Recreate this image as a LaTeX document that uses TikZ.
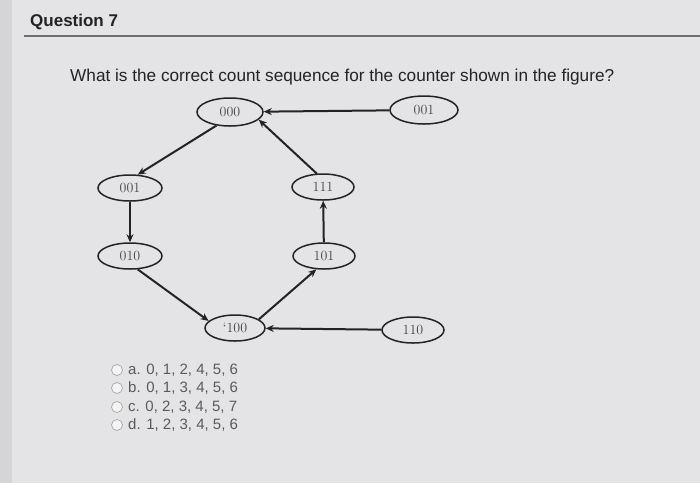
\documentclass[tikz,border=0pt]{standalone}
\usepackage{fontspec}
\setsansfont{Liberation Sans}
\usetikzlibrary{shapes.geometric,arrows.meta}
\definecolor{bgc}{RGB}{228,228,230}
\definecolor{ink}{RGB}{35,35,35}
\definecolor{rule}{RGB}{110,110,110}
\begin{document}
\begin{tikzpicture}[x=1pt,y=-1pt,
  st/.style={draw=ink,ellipse,line width=1.5pt,minimum width=64pt,minimum height=26pt,inner sep=0pt,font=\fontsize{14}{14}\selectfont,text=ink!85},
  ar/.style={draw=ink,line width=2pt,-{Stealth[length=8pt,width=7pt]}},
  opt/.style={anchor=west,font=\sffamily\fontsize{15}{15}\selectfont,text=ink!75,inner sep=0pt},
  radio/.style={draw=gray!70,circle,minimum size=11pt,inner sep=0pt,line width=0.7pt,fill=white!60!bgc}]
\fill[bgc] (0,0) rectangle (700,483);
\useasboundingbox (0,0) rectangle (700,483);
\fill[gray!15!bgc] (0,0) rectangle (12,483);
\node[anchor=west,font=\sffamily\bfseries\fontsize{17}{17}\selectfont,text=ink,inner sep=0pt] (title) at (30,22) {Question 7};
\draw[rule,line width=1.2pt] (24,36) -- (700,36);
\node[anchor=west,font=\sffamily\fontsize{17.2}{17.2}\selectfont,text=ink,inner sep=0pt] (q) at (70,77) {What is the correct count sequence for the counter shown in the figure?};
% states
\node[st,minimum width=66pt,minimum height=28pt] (s000) at (230,112) {000};
\node[st,minimum width=68pt,minimum height=28pt] (s001r) at (424,110) {001};
\node[st] (s001) at (130,188) {001};
\node[st,minimum width=62pt] (s111) at (323,187) {111};
\node[st] (s010) at (130,256) {010};
\node[st,minimum width=62pt] (s101) at (324,256) {101};
\node[st,minimum width=60pt] (s100) at (235,328) {`100};
\node[st,minimum width=62pt] (s110) at (413,330) {110};
% transitions
\draw[ar] (s001r) -- (s000);
\draw[ar] (s000.225) -- (s001.60);
\draw[ar] (s001) -- (s010);
\draw[ar] (s010.-60) -- (s100.165);
\draw[ar] (s100.20) -- (s101.-120);
\draw[ar] (s101) -- (s111);
\draw[ar] (s111.115) -- (s000.-15);
\draw[ar] (s110) -- (s100);
% options
\node[radio] (ra) at (117,370) {};
\node[radio] (rb) at (117,388) {};
\node[radio] (rc) at (117,407) {};
\node[radio] (rd) at (117,425) {};
\node[opt] (oa) at (128,370) {a. 0, 1, 2, 4, 5, 6};
\node[opt] (ob) at (128,388) {b. 0, 1, 3, 4, 5, 6};
\node[opt] (oc) at (128,407) {c. 0, 2, 3, 4, 5, 7};
\node[opt] (od) at (128,425) {d. 1, 2, 3, 4, 5, 6};
\end{tikzpicture}
\end{document}
